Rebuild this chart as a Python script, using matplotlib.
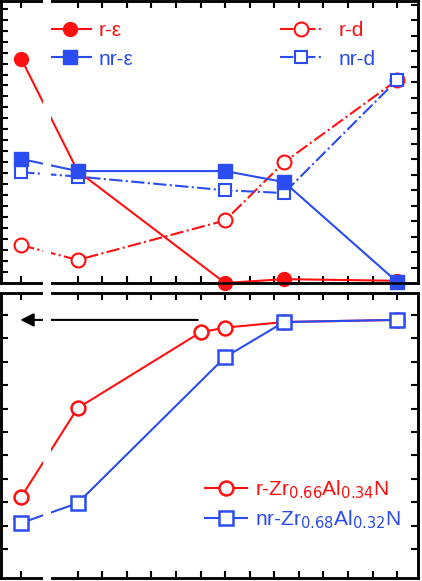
import matplotlib
matplotlib.use("Agg")
import matplotlib.pyplot as plt
import numpy as np

plt.rcParams['font.family'] = ['Liberation Sans', 'DejaVu Sans']

RED = "#ff1010"
BLUE = "#2a4cf0"

x_top = [-2.3, 0, 6, 8.4, 13]
r_eps = [20.45, 10.2, 0.0, 0.35, 0.2]
nr_eps = [11.3, 10.2, 10.2, 9.2, 0.1]
r_d = [3.45, 2.1, 5.7, 11.0, 18.5]
nr_d = [10.1, 9.7, 8.45, 8.2, 18.5]

x_r_bot = [-2.3, 0, 5, 6, 8.4, 13]
r_bot = [3.46, 7.26, 10.5, 10.7, 10.94, 11.03]
x_nr_bot = [-2.3, 0, 6, 8.4, 13]
nr_bot = [2.35, 3.2, 9.44, 10.94, 11.03]

W, H = 422, 581
fig = plt.figure(figsize=(W/100, H/100), dpi=100)
L, R = 1/W, 418/W
ax1 = fig.add_axes([L, 1-283/H, R-L, 282/H])
ax2 = fig.add_axes([L, 1-578/H, R-L, 285/H])

xlim = (-3.12, 13.85)
xt = [-2.3] + list(range(0, 14))
lw = 1.5
ms = 10

def style(ax, twin, ymax_l, lt, ymax_r, rt):
    ax.set_xlim(*xlim)
    ax.set_ylim(0, ymax_l)
    twin.set_ylim(0, ymax_r)
    ax.set_xticks(xt)
    ax.set_yticks(lt)
    twin.set_yticks(rt)
    for a in (ax, twin):
        a.tick_params(direction="in", length=5, width=1.5, labelleft=False,
                      labelright=False, labelbottom=False, labeltop=False,
                      top=True, bottom=True)
        for s in a.spines.values():
            s.set_linewidth(1.8)
    ax.tick_params(right=False)
    twin.tick_params(left=False, right=True)
    twin.axvspan(-1.42, -1.1, ymin=-0.03, ymax=1.03, color="white",
                 zorder=20, clip_on=False, lw=0)

# top panel
t1 = ax1.twinx()
ax1.plot(x_top, r_eps, "-o", color=RED, lw=lw, ms=ms, clip_on=False, zorder=5, label="r-ε")
ax1.plot(x_top, nr_eps, "-s", color=BLUE, lw=lw, ms=ms, clip_on=False, zorder=5, label="nr-ε")
ax1.plot(x_top, r_d, "-.o", color=RED, lw=lw, ms=ms, mfc="white", mew=1.5, clip_on=False, zorder=4, label="r-d")
ax1.plot(x_top, nr_d, "-.s", color=BLUE, lw=lw, ms=ms-1, mfc="white", mew=1.5, clip_on=False, zorder=4, label="nr-d")
style(ax1, t1, 25.7, np.arange(0, 26, 1), 18.26, np.arange(1, 19, 1))
h, l = ax1.get_legend_handles_labels()
lg1 = ax1.legend([h[0], h[1]], [l[0], l[1]], loc="upper left", bbox_to_anchor=(0.09, 0.965),
                 frameon=False, fontsize=15, handlelength=2.0, labelspacing=0.45,
                 handletextpad=0.4, borderpad=0)
for t, c in zip(lg1.get_texts(), [RED, BLUE]):
    t.set_color(c)
ax1.add_artist(lg1)
lg2 = ax1.legend([h[2], h[3]], [l[2], l[3]], loc="upper left", bbox_to_anchor=(0.645, 0.965),
                 frameon=False, fontsize=15, handlelength=2.0, labelspacing=0.45,
                 handletextpad=0.8, borderpad=0)
for t, c in zip(lg2.get_texts(), [RED, BLUE]):
    t.set_color(c)

# bottom panel
t2 = ax2.twinx()
ax2.plot(x_r_bot, r_bot, "-o", color=RED, lw=lw, ms=ms, mfc="white", mew=1.8, clip_on=False, zorder=4,
         label="r-Zr$_{0.66}$Al$_{0.34}$N")
ax2.plot(x_nr_bot, nr_bot, "-s", color=BLUE, lw=lw, ms=ms, mfc="white", mew=1.8, clip_on=False, zorder=5,
         label="nr-Zr$_{0.68}$Al$_{0.32}$N")
ax2.annotate("", xy=(-2.45, 11.03), xytext=(5.0, 11.03),
             arrowprops=dict(arrowstyle="-|>", color="black", lw=1.5, mutation_scale=20))
bt = 1.24 + np.arange(0, 11)
style(ax2, t2, 12.18, bt, 12.18, bt)
lg3 = ax2.legend(loc="lower right", bbox_to_anchor=(0.985, 0.13), frameon=False, fontsize=15,
                 handlelength=2.0, labelspacing=0.35, handletextpad=0.4, borderpad=0)
for t, c in zip(lg3.get_texts(), [RED, BLUE]):
    t.set_color(c)

fig.savefig("out.png", dpi=100)
